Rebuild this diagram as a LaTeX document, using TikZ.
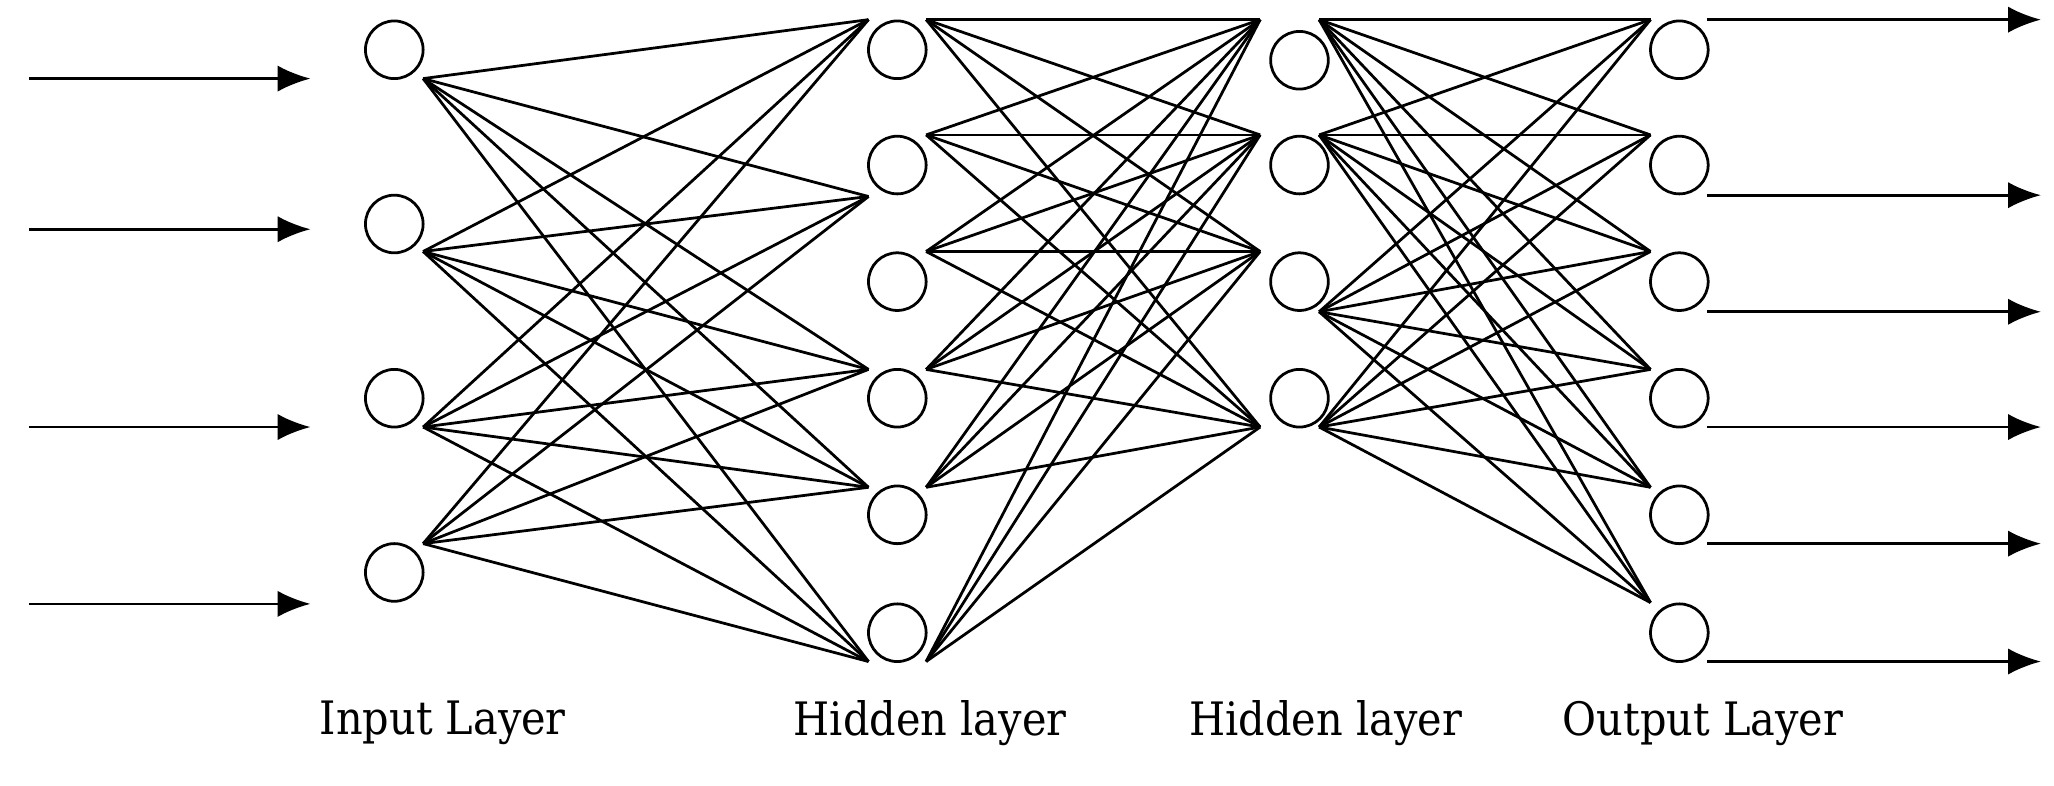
\documentclass[tikz,border=0pt]{standalone}
\usepackage{fontspec}
\setmainfont{DejaVu Serif Condensed}
\usetikzlibrary{arrows.meta, positioning}

\begin{document}
\begin{tikzpicture}[x=0.01cm, y=-0.01cm, line width=0.6pt,
    neuron/.style={draw, circle, minimum size=0.44cm, inner sep=0pt},
    signal/.style={-{Latex[length=2.5mm, width=2mm]}},
    label/.style={font=\fontsize{10}{12}\selectfont}]
                \useasboundingbox (0,0) rectangle (1568,600);
                % neurons
                \foreach \y [count=\i] in {38,171,304,437} \node[neuron] (i\i) at (301,\y) {};
                \foreach \y [count=\i] in {38,126,215,304,393,483} \node[neuron] (h\i) at (685,\y) {};
                \foreach \y [count=\i] in {46,126,215,304} \node[neuron] (k\i) at (992,\y) {};
                \foreach \y [count=\i] in {38,126,215,304,393,483} \node[neuron] (o\i) at (1282,\y) {};

                % connector ends
                \foreach \y [count=\i] in {60,192,326,415} \coordinate (ir\i) at (323,\y);
                \foreach \y [count=\i] in {15,150,282,372,505} \coordinate (hl\i) at (663,\y);
                \foreach \y [count=\i] in {15,103,192,282,372,505} \coordinate (hr\i) at (707,\y);
                \foreach \y [count=\i] in {15,103,192,326} \coordinate (kl\i) at (962,\y);
                \foreach \y [count=\i] in {15,103,238,326} \coordinate (kr\i) at (1007,\y);
                \foreach \y [count=\i] in {15,103,192,282,372,460} \coordinate (ol\i) at (1260,\y);

                % inputs and outputs
                \foreach \y [count=\i] in {60,175,326,461} {
                    \coordinate (in\i) at (22,\y);
                    \coordinate (ia\i) at (237,\y);
                    \draw[signal] (in\i) -- (ia\i);
                }
                \foreach \y [count=\i] in {15,149,238,326,415,505} {
                    \coordinate (ob\i) at (1303,\y);
                    \coordinate (out\i) at (1558,\y);
                    \draw[signal] (ob\i) -- (out\i);
                }

                % weights
                \foreach \a in {1,...,4} \foreach \b in {1,...,5} \draw (ir\a) -- (hl\b);
                \foreach \a in {1,...,6} \foreach \b in {1,...,4} \draw (hr\a) -- (kl\b);
                \foreach \a in {1,...,4} \foreach \b in {1,...,6} \draw (kr\a) -- (ol\b);

                % layer names
                \node[label] (lin) at (338,552) {Input Layer};
                \node[label] (lh1) at (710,552) {Hidden layer};
                \node[label] (lh2) at (1012,552) {Hidden layer};
                \node[label] (lout) at (1300,552) {Output Layer};
            \end{tikzpicture}
\end{document}
